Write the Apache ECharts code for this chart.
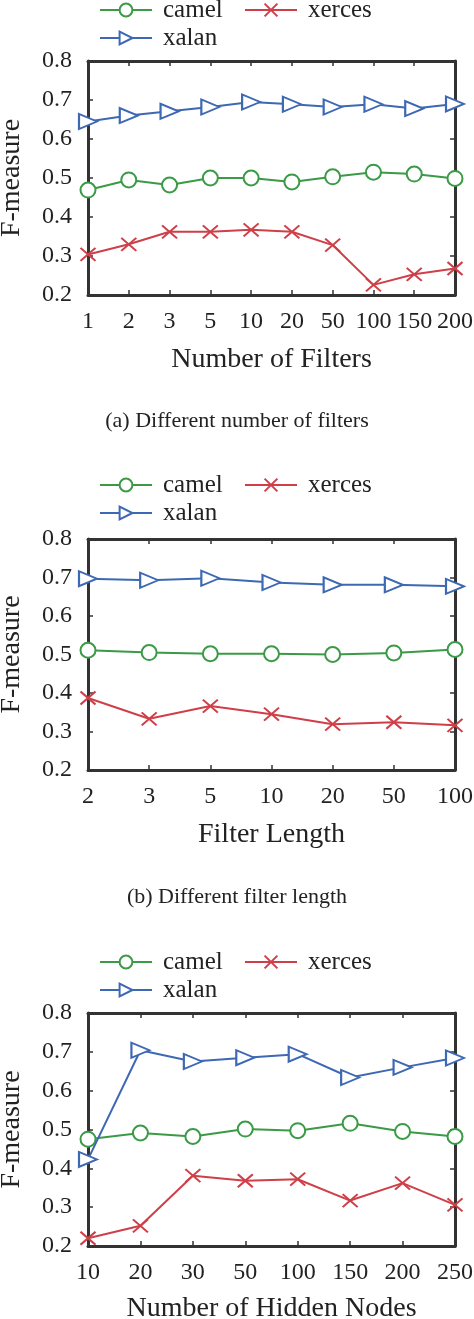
<!DOCTYPE html>
<html>
<head>
<meta charset="utf-8">
<script src="https://cdn.jsdelivr.net/npm/echarts@6/dist/echarts.min.js"></script>
<style>
html,body{margin:0;padding:0;background:#fff;}
#chart{width:474px;height:1319px;}
</style>
</head>
<body>
<div id="chart"></div>
<script>
// ---- data ----
const seriesNames = ['camel', 'xerces', 'xalan'];
const yTicks = [0.2, 0.3, 0.4, 0.5, 0.6, 0.7, 0.8];

const filtersCats = ['1', '2', '3', '5', '10', '20', '50', '100', '150', '200'];
const filtersCamel  = [0.469, 0.495, 0.482, 0.500, 0.500, 0.490, 0.503, 0.515, 0.510, 0.499];
const filtersXerces = [0.304, 0.330, 0.362, 0.362, 0.367, 0.362, 0.328, 0.226, 0.253, 0.268];
const filtersXalan  = [0.645, 0.660, 0.671, 0.682, 0.695, 0.689, 0.682, 0.689, 0.678, 0.690];

const lengthCats = ['2', '3', '5', '10', '20', '50', '100'];
const lengthCamel  = [0.511, 0.505, 0.502, 0.502, 0.500, 0.504, 0.513];
const lengthXerces = [0.387, 0.333, 0.366, 0.345, 0.319, 0.324, 0.316];
const lengthXalan  = [0.697, 0.693, 0.698, 0.687, 0.681, 0.681, 0.677];

const hiddenCats = ['10', '20', '30', '50', '100', '150', '200', '250'];
const hiddenCamel  = [0.475, 0.491, 0.482, 0.501, 0.497, 0.516, 0.495, 0.482];
const hiddenXerces = [0.220, 0.252, 0.381, 0.368, 0.372, 0.317, 0.362, 0.306];
const hiddenXalan  = [0.423, 0.704, 0.675, 0.685, 0.694, 0.634, 0.660, 0.684];

const xTitles = ['Number of Filters', 'Filter Length', 'Number of Hidden Nodes'];
const captions = ['(a) Different number of filters', '(b) Different filter length'];

// ---- layout / style ----
const FONT = '"Liberation Serif", "Times New Roman", serif';
const TEXT = '#222';
const FRAME = '#333';
const COLORS = { camel: '#3a9a46', xerces: '#cf3f48', xalan: '#3d68b4' };

const panels = [
  { cats: filtersCats, vals: [filtersCamel, filtersXerces, filtersXalan], top: 61, bottom: 295, legendY: [10, 38], nameGap: 51 },
  { cats: lengthCats, vals: [lengthCamel, lengthXerces, lengthXalan], top: 539, bottom: 770, legendY: [485, 513], nameGap: 51 },
  { cats: hiddenCats, vals: [hiddenCamel, hiddenXerces, hiddenXalan], top: 1013, bottom: 1246, legendY: [962, 990], nameGap: 49 }
];

const grid = [], xAxis = [], yAxis = [], series = [], legend = [];

const axisLineStyle = { show: true, lineStyle: { color: FRAME, width: 3 } };
const tickStyle = { show: true, inside: true, length: 5, lineStyle: { color: FRAME, width: 1.5 } };

panels.forEach((p, i) => {
  grid.push({ left: 88, right: 19, top: p.top, height: p.bottom - p.top, show: false,
              containLabel: false, outerBoundsMode: 'none' });
  const xi = xAxis.length, yi = yAxis.length;
  xAxis.push({
    type: 'category', gridIndex: i, data: p.cats, boundaryGap: false, position: 'bottom',
    axisLine: axisLineStyle, axisTick: tickStyle,
    axisLabel: { fontFamily: FONT, fontSize: 24, color: TEXT, margin: 15, interval: 0, hideOverlap: false },
    name: xTitles[i], nameLocation: 'middle', nameGap: p.nameGap,
    nameTextStyle: { fontFamily: FONT, fontSize: 28, color: TEXT },
    splitLine: { show: false }
  });
  xAxis.push({
    type: 'category', gridIndex: i, data: p.cats, boundaryGap: false, position: 'top',
    axisLine: axisLineStyle, axisTick: tickStyle, axisLabel: { show: false }, splitLine: { show: false }
  });
  yAxis.push({
    type: 'value', gridIndex: i, min: 0.2, max: 0.8, interval: 0.1, position: 'left',
    axisLine: axisLineStyle, axisTick: tickStyle,
    axisLabel: { fontFamily: FONT, fontSize: 24, color: TEXT, margin: 16, formatter: v => v.toFixed(1) },
    name: 'F-measure', nameLocation: 'middle', nameGap: 62,
    nameTextStyle: { fontFamily: FONT, fontSize: 28, color: TEXT },
    splitLine: { show: false }
  });
  yAxis.push({
    type: 'value', gridIndex: i, min: 0.2, max: 0.8, interval: 0.1, position: 'right',
    axisLine: axisLineStyle, axisTick: tickStyle, axisLabel: { show: false }, splitLine: { show: false }
  });

  seriesNames.forEach((n, k) => {
    const s = {
      type: 'line', name: n, xAxisIndex: xi, yAxisIndex: yi, data: p.vals[k],
      clip: false, z: 3 + k,
      lineStyle: { color: COLORS[n], width: 2 },
      itemStyle: { color: '#fff', borderColor: COLORS[n], borderWidth: 2 },
      emphasis: { disabled: true }
    };
    if (n === 'camel') { s.symbol = 'circle'; s.symbolSize = 15; }
    if (n === 'xerces') {
      s.symbol = 'path://M0,0L10,10M0,10L10,0'; s.symbolSize = [15, 13];
      s.itemStyle = { color: COLORS[n], borderColor: COLORS[n], borderWidth: 2 };
    }
    if (n === 'xalan') { s.symbol = 'triangle'; s.symbolSize = [15, 18]; s.symbolRotate = -90; }
    series.push(s);
  });

  const legendPos = [
    { name: 'camel', left: 99, y: p.legendY[0] },
    { name: 'xerces', left: 244, y: p.legendY[0] },
    { name: 'xalan', left: 99, y: p.legendY[1] }
  ];
  legendPos.forEach(lp => {
    legend.push({
      data: [lp.name], left: lp.left, top: lp.y - 13, padding: 0,
      itemWidth: 52, itemHeight: 16, selectedMode: false,
      textStyle: { fontFamily: FONT, fontSize: 25, color: TEXT, lineHeight: 26, padding: [0, 0, 0, 6] }
    });
  });
});

const graphic = [
  { type: 'text', left: 'center', top: 420 - 10, style: { text: captions[0], font: '22px ' + FONT, fill: TEXT } },
  { type: 'text', left: 'center', top: 896 - 10, style: { text: captions[1], font: '22px ' + FONT, fill: TEXT } }
];

const chart = echarts.init(document.getElementById('chart'), null, { renderer: 'canvas' });
chart.setOption({
  animation: false,
  backgroundColor: '#fff',
  grid, xAxis, yAxis, series, legend, graphic
});
</script>
</body>
</html>
